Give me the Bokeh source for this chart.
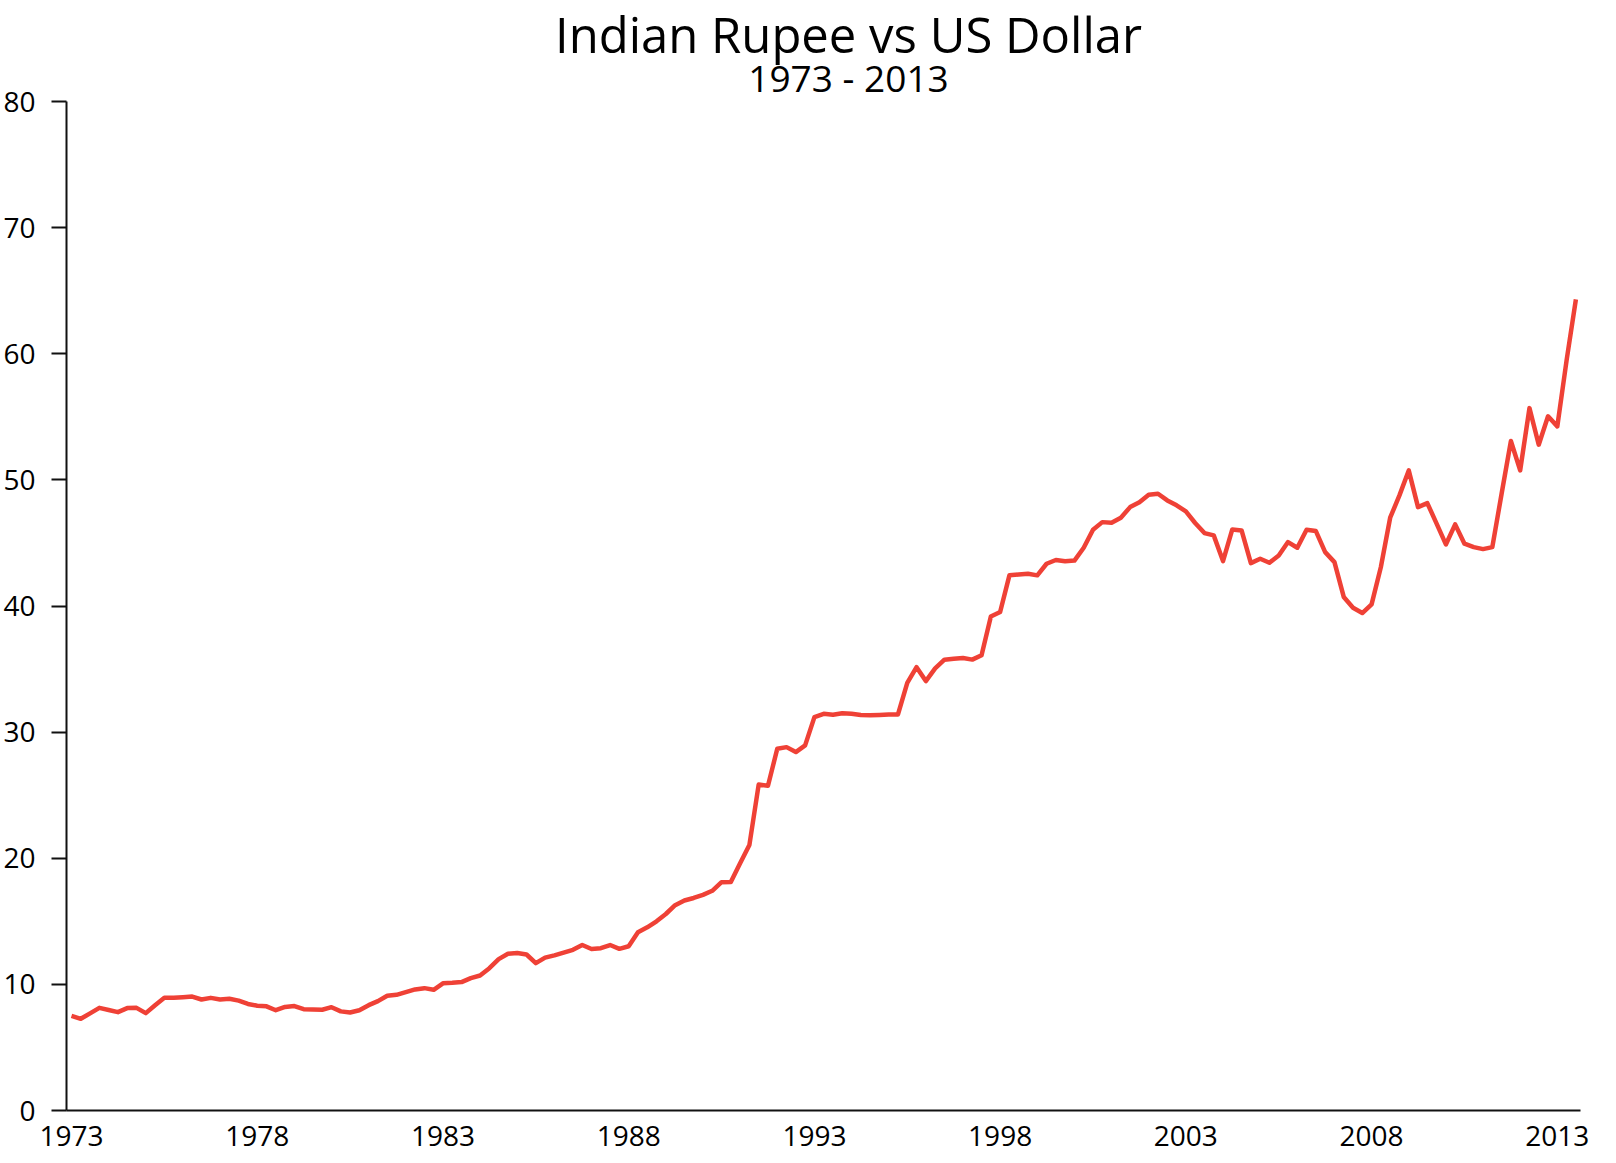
from bokeh.plotting import figure
from bokeh.models import Label, FixedTicker, Range1d
from bokeh.embed import file_html
from bokeh.resources import INLINE

# ---- data (quarterly INR per USD) ----
start_year = 1973.0
step_years = 0.25
rate = [
    7.50, 7.27, 7.70, 8.14, 7.97, 7.80, 8.12, 8.14, 7.72, 8.35,
    8.94, 8.94, 8.98, 9.03, 8.80, 8.93, 8.80, 8.86, 8.71, 8.45,
    8.31, 8.26, 7.95, 8.21, 8.28, 8.03, 8.01, 7.99, 8.19, 7.86,
    7.77, 7.95, 8.35, 8.67, 9.10, 9.17, 9.38, 9.60, 9.70, 9.57,
    10.08, 10.12, 10.18, 10.50, 10.70, 11.28, 12.00, 12.43, 12.48, 12.37,
    11.68, 12.12, 12.30, 12.52, 12.74, 13.12, 12.80, 12.87, 13.12, 12.82,
    13.02, 14.14, 14.52, 15.00, 15.58, 16.28, 16.65, 16.85, 17.10, 17.42,
    18.10, 18.12, 19.60, 21.05, 25.85, 25.75, 28.68, 28.81, 28.42, 28.95,
    31.19, 31.45, 31.38, 31.50, 31.45, 31.35, 31.33, 31.36, 31.39, 31.40,
    33.90, 35.15, 34.05, 35.05, 35.74, 35.82, 35.87, 35.75, 36.10, 39.17,
    39.52, 42.43, 42.50, 42.56, 42.43, 43.35, 43.65, 43.55, 43.60, 44.62,
    46.05, 46.65, 46.60, 47.00, 47.84, 48.22, 48.82, 48.90, 48.37, 47.98,
    47.50, 46.58, 45.78, 45.60, 43.56, 46.07, 45.99, 43.40, 43.75, 43.43,
    44.01, 45.07, 44.62, 46.05, 45.94, 44.27, 43.48, 40.72, 39.86, 39.44,
    40.13, 43.09, 47.00, 48.77, 50.75, 47.84, 48.16, 46.53, 44.88, 46.47,
    44.94, 44.67, 44.51, 44.67, 48.90, 53.08, 50.75, 55.69, 52.79, 55.04,
    54.24, 59.48, 64.31,
]
years = [start_year + step_years * i for i in range(len(rate))]

x_tick_years = [1973, 1978, 1983, 1988, 1993, 1998, 2003, 2008, 2013]
y_ticks = [0, 10, 20, 30, 40, 50, 60, 70, 80]
y_axis_max = 80
title_text = "Indian Rupee vs US Dollar"
subtitle_text = "1973 - 2013"

# ---- figure ----
FONT = "Open Sans"
W, H = 1616, 1163
B_LEFT, B_RIGHT, B_TOP, B_BOTTOM = 65, 36, 0, 53
FRAME_BOTTOM = H - B_BOTTOM          # canvas y of the frame bottom
PLOT_TOP = 101                       # canvas y of the value 80

# the frame reaches the canvas top so the titles can sit inside it;
# the axis itself is bounded to 0..80
y_end = y_axis_max * FRAME_BOTTOM / (FRAME_BOTTOM - PLOT_TOP)

p = figure(
    width=W, height=H,
    output_backend="svg", toolbar_location=None,
    x_range=Range1d(1972.8655, 2013.624), y_range=Range1d(0, y_end),
    min_border_left=B_LEFT, min_border_right=B_RIGHT,
    min_border_top=B_TOP, min_border_bottom=B_BOTTOM,
)
p.outline_line_color = None
p.xgrid.grid_line_color = None
p.ygrid.grid_line_color = None
p.background_fill_color = "white"
p.border_fill_color = "white"

p.line(years, rate, line_color="#EF4136", line_width=4.5, line_join="round")

# y axis
ya = p.yaxis[0]
ya.bounds = (0, y_axis_max)
ya.ticker = FixedTicker(ticks=y_ticks)
ya.major_tick_out = 15
ya.major_tick_in = 0
ya.minor_tick_line_color = None
ya.major_tick_line_width = 2
ya.major_tick_line_color = "#111111"
ya.axis_line_width = 2
ya.axis_line_color = "#111111"
ya.major_label_standoff = 16
ya.major_label_text_font = FONT
ya.major_label_text_font_size = "28px"
ya.major_label_text_color = "black"

# x axis
xa = p.xaxis[0]
xa.ticker = FixedTicker(ticks=x_tick_years)
xa.major_tick_out = 0
xa.major_tick_in = 0
xa.major_tick_line_color = None
xa.minor_tick_line_color = None
xa.axis_line_width = 2
xa.axis_line_color = "#111111"
xa.major_label_standoff = 15
xa.major_label_text_font = FONT
xa.major_label_text_font_size = "28px"
xa.major_label_text_color = "black"

# titles (screen units relative to the frame: x from left, y from bottom)
TITLE_CX = 847 - B_LEFT
p.add_layout(Label(
    x=TITLE_CX, y=FRAME_BOTTOM - 33, x_units="screen", y_units="screen",
    text=title_text, text_align="center", text_baseline="alphabetic",
    text_font=FONT, text_font_size="49px", text_color="black",
))
p.add_layout(Label(
    x=TITLE_CX, y=FRAME_BOTTOM - 77, x_units="screen", y_units="screen",
    text=subtitle_text, text_align="center", text_baseline="alphabetic",
    text_font=FONT, text_font_size="37px", text_color="black",
))

open("out.html", "w").write(file_html(p, INLINE))
